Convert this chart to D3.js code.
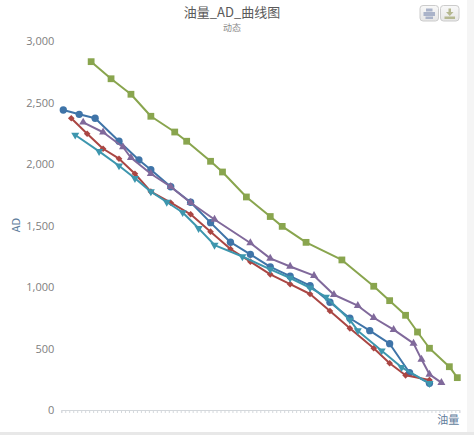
<!DOCTYPE html>
<html lang="en">
<head>
	<meta charset="UTF-8">
	<title>油量_AD_曲线图</title>
	<script src="https://cdn.jsdelivr.net/npm/d3@7"></script>
	<style>
	html, body {
		margin: 0;
		padding: 0;
		background: #fff;
		overflow: hidden;
	}
	.tick text {
		font-family: "Open Sans", sans-serif;
		font-size: 11px;
		fill: #808080;
	}
	.title {
		font-family: "Noto Sans CJK SC", sans-serif;
		fill: #5a5a5a;
	}
	.axis-title {
		font-family: "Noto Sans CJK SC", sans-serif;
		font-size: 11px;
		fill: #5f7d9c;
	}
	</style>
</head>
<body>
<script>
	// x positions are category numbers, no labels are shown on the axis
	var categoryCount = 100;
	var yTicks = [0, 500, 1000, 1500, 2000, 2500, 3000];

	var blueX = [0, 4, 8, 14, 19, 22, 27, 32, 37, 42, 47, 52, 57, 62, 67, 72, 77, 82, 87, 92];
	var blueY = [2439, 2404, 2372, 2185, 2033, 1954, 1815, 1689, 1523, 1364, 1266, 1164, 1088, 1011, 876, 746, 645, 539, 303, 217];

	var redX = [2, 6, 10, 14, 18, 22, 27, 32, 37, 42, 47, 52, 57, 62, 67, 72, 78, 82, 86, 92];
	var redY = [2372, 2246, 2124, 2043, 1921, 1775, 1685, 1591, 1450, 1309, 1206, 1103, 1023, 943, 805, 664, 502, 380, 282, 244];

	var greenX = [7, 12, 17, 22, 28, 31, 37, 40, 46, 52, 55, 61, 70, 78, 82, 86, 89, 92, 97, 99];
	var greenY = [2832, 2693, 2567, 2388, 2260, 2185, 2022, 1935, 1732, 1573, 1493, 1363, 1220, 1006, 889, 770, 634, 502, 352, 263];

	var purpleX = [5, 10, 15, 17, 22, 27, 32, 38, 47, 52, 57, 63, 68, 74, 78, 83, 88, 90, 92, 95];
	var purpleY = [2339, 2258, 2138, 2051, 1921, 1815, 1685, 1549, 1358, 1233, 1167, 1092, 937, 848, 750, 653, 542, 412, 290, 222];

	var tealX = [3, 9, 14, 18, 22, 26, 30, 34, 38, 45, 52, 57, 62, 66, 72, 74, 80, 85, 92];
	var tealY = [2236, 2103, 1986, 1884, 1775, 1691, 1606, 1477, 1341, 1248, 1144, 1073, 994, 919, 732, 645, 482, 347, 217];

	var seriesList = [
		{xs: blueX, ys: blueY, color: '#3f74a8', symbol: d3.symbolCircle, size: 42},
		{xs: redX, ys: redY, color: '#aa4643', symbol: d3.symbolDiamond2, size: 28},
		{xs: greenX, ys: greenY, color: '#89a54e', symbol: d3.symbolSquare, size: 46},
		{xs: purpleX, ys: purpleY, color: '#80699b', symbol: d3.symbolTriangle, size: 28},
		{xs: tealX, ys: tealY, color: '#3d96ae', symbol: d3.symbolTriangle, size: 28, flip: true}
	];

	var margin = {top: 41, bottom: 25, left: 61.3, right: 14.7};
	var width = 474 - margin.left - margin.right;
	var height = 435 - margin.top - margin.bottom;

	var svg = d3.select('body').append('svg')
		.attr('width', 474)
		.attr('height', 435)
		.style('display', 'block');

	// grey page edges around the chart
	svg.append('rect').attr('x', 467).attr('y', 0).attr('width', 7).attr('height', 435).attr('fill', '#f5f5f5');
	svg.append('rect').attr('x', 0).attr('y', 432).attr('width', 474).attr('height', 3).attr('fill', '#e8e8e8');

	svg.append('text').attr('class', 'title')
		.attr('x', 232).attr('y', 16.5)
		.attr('text-anchor', 'middle')
		.style('font-size', '13px')
		.text('油量_AD_曲线图');

	svg.append('text').attr('class', 'title')
		.attr('x', 232).attr('y', 31)
		.attr('text-anchor', 'middle')
		.style('font-size', '9px')
		.style('fill', '#8a8a8a')
		.text('动态');

	var g = svg.append('g')
		.attr('transform', 'translate(' + margin.left + ',' + margin.top + ')');

	var x = d3.scaleLinear().domain([-0.5, categoryCount - 0.5]).range([0, width]);
	var y = d3.scaleLinear().domain([0, 3000]).range([height, 0]);

	var yAxis = g.append('g')
		.call(d3.axisLeft(y).tickValues(yTicks).tickSize(0).tickPadding(7).tickFormat(d3.format(',')));
	yAxis.select('.domain').remove();

	var xAxis = g.append('g')
		.attr('transform', 'translate(0,' + height + ')')
		.call(d3.axisBottom(x).tickValues(d3.range(-0.5, categoryCount)).tickSize(3).tickFormat(''));
	xAxis.selectAll('line').attr('stroke', '#d4d8dc');
	xAxis.select('.domain').attr('stroke', '#d4d8dc');

	g.append('text').attr('class', 'axis-title')
		.attr('transform', 'rotate(-90)')
		.attr('x', -(225 - margin.top))
		.attr('y', 16 - margin.left + 4)
		.attr('text-anchor', 'middle')
		.text('AD');

	g.append('text').attr('class', 'axis-title')
		.attr('x', width)
		.attr('y', height + 14)
		.attr('text-anchor', 'end')
		.text('油量');

	var line = d3.line()
		.x(function (d) { return x(d[0]); })
		.y(function (d) { return y(d[1]); });

	seriesList.forEach(function (s) {
		var pts = d3.zip(s.xs, s.ys);

		g.append('path')
			.attr('d', line(pts))
			.attr('fill', 'none')
			.attr('stroke', s.color)
			.attr('stroke-width', 2)
			.attr('stroke-linejoin', 'round');

		g.selectAll(null)
			.data(pts)
			.enter()
			.append('path')
			.attr('d', d3.symbol().type(s.symbol).size(s.size))
			.attr('fill', s.color)
			.attr('transform', function (d) {
				return 'translate(' + x(d[0]) + ',' + y(d[1]) + ')' + (s.flip ? ' rotate(180)' : '');
			});
	});

	// export buttons, top right
	var buttons = [
		{bx: 420, icon: '#aab3c9', type: 'print'},
		{bx: 440.5, icon: '#b5b890', type: 'save'}
	];
	var defs = svg.append('defs');
	var grad = defs.append('linearGradient').attr('id', 'btn').attr('x1', 0).attr('x2', 0).attr('y1', 0).attr('y2', 1);
	grad.append('stop').attr('offset', '0').attr('stop-color', '#f9f9f9');
	grad.append('stop').attr('offset', '1').attr('stop-color', '#e6e6e6');

	buttons.forEach(function (b) {
		var bg = svg.append('g').attr('transform', 'translate(' + b.bx + ',5.5)');
		bg.append('rect')
			.attr('width', 18.5).attr('height', 15.5).attr('rx', 3)
			.attr('fill', 'url(#btn)').attr('stroke', '#cccccc');
		if (b.type == 'print') {
			bg.append('path').attr('d', 'M6 3h6.5v3H6z M3.5 6.5h11.5v4H3.5z M5.5 11h7.5v2.5H5.5z').attr('fill', b.icon);
		} else {
			bg.append('path').attr('d', 'M8 3h2.5v3.5H13L9.25 10.5 5.5 6.5H8z M4 11h10.5v2.5H4z').attr('fill', b.icon);
		}
	});
</script>
</body>
</html>
